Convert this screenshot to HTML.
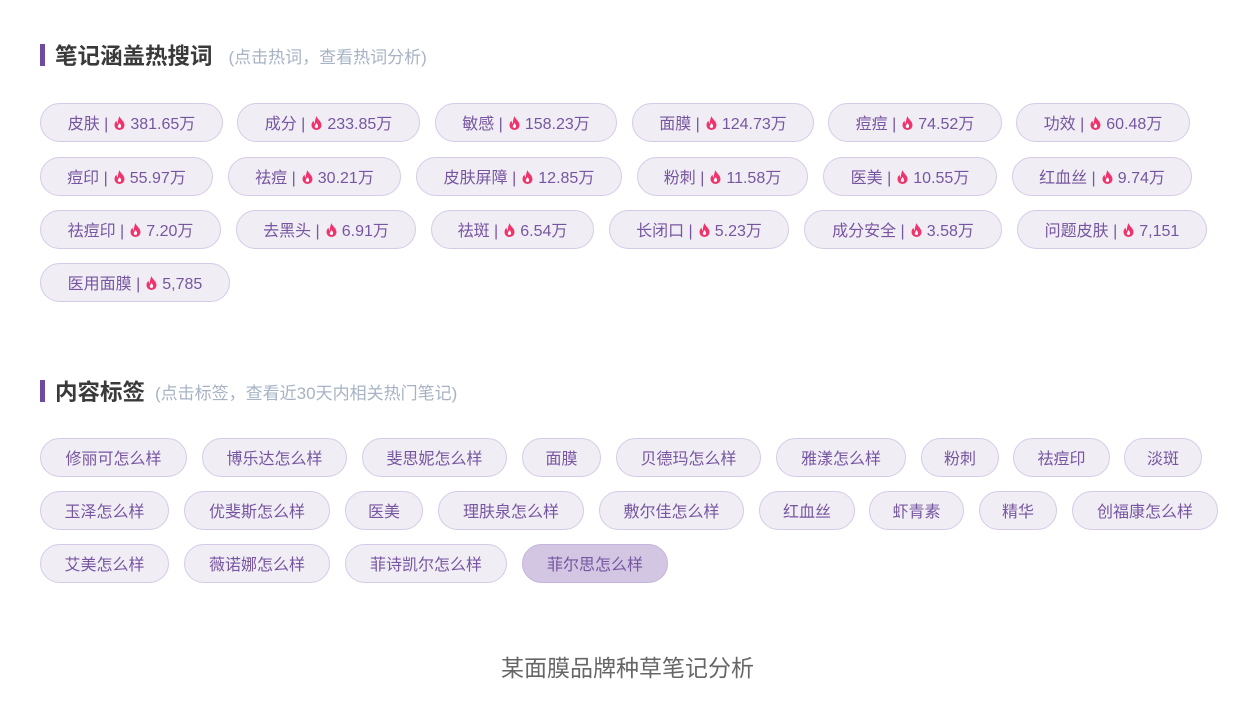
<!DOCTYPE html>
<html><head><meta charset="utf-8"><style>
body{margin:0;width:1255px;height:716px;background:#fff;position:relative;overflow:hidden;font-family:"Liberation Sans","Noto Sans CJK SC",sans-serif}
.p{position:absolute;box-sizing:border-box;border:1.5px solid #d6cbe7;background:#f1edf5;border-radius:20px;color:#7656a0;font-size:16px;text-align:center;line-height:42px;white-space:nowrap;height:39px}
.p.a{background:#d3c6e2;border-color:#c4b3dc}
.f{display:inline-block;width:11px;height:14px;margin:0 5px 0 6px;vertical-align:-1px}
.h{position:absolute;left:40px;height:22px;display:flex;align-items:center}
.bar{width:5px;height:22px;background:#6e4ba0;margin-right:10px}
.t{font-size:22.5px;font-weight:bold;color:#3a3a3a}
.s{font-size:17px;color:#a7b3c4;margin-left:16px}
.cap{position:absolute;top:649px;left:0;width:1255px;text-align:center;font-size:23px;color:#666}
</style></head><body>
<svg width="0" height="0" style="position:absolute"><defs><symbol id="fl" viewBox="0 0 11 14"><path d="M5.5 0C6 3 10.5 5 10.5 9.2A5 4.8 0 0 1 0.5 9.2C0.5 7 1.6 5.6 2.6 4.8C2.6 6.5 3.3 7.4 4 7.6C3.5 5 4.8 2 5.5 0Z" fill="#f0336c"/><path d="M5.5 7C6.8 8.5 7.3 9.8 7 11A1.8 1.8 0 0 1 3.8 11C3.6 9.8 4.6 8.6 5.5 7Z" fill="#fff"/></symbol></defs></svg>
<div class="h" style="top:44px"><div class="bar"></div><span class="t">笔记涵盖热搜词</span><span class="s">(点击热词，查看热词分析)</span></div>

<div class="p" style="left:40px;top:103px;width:183px">皮肤 |<svg class="f"><use href="#fl"/></svg>381.65万</div>
<div class="p" style="left:237px;top:103px;width:183px">成分 |<svg class="f"><use href="#fl"/></svg>233.85万</div>
<div class="p" style="left:435px;top:103px;width:182px">敏感 |<svg class="f"><use href="#fl"/></svg>158.23万</div>
<div class="p" style="left:632px;top:103px;width:182px">面膜 |<svg class="f"><use href="#fl"/></svg>124.73万</div>
<div class="p" style="left:828px;top:103px;width:174px">痘痘 |<svg class="f"><use href="#fl"/></svg>74.52万</div>
<div class="p" style="left:1016px;top:103px;width:174px">功效 |<svg class="f"><use href="#fl"/></svg>60.48万</div>

<div class="p" style="left:40px;top:157px;width:173px">痘印 |<svg class="f"><use href="#fl"/></svg>55.97万</div>
<div class="p" style="left:228px;top:157px;width:173px">祛痘 |<svg class="f"><use href="#fl"/></svg>30.21万</div>
<div class="p" style="left:416px;top:157px;width:206px">皮肤屏障 |<svg class="f"><use href="#fl"/></svg>12.85万</div>
<div class="p" style="left:637px;top:157px;width:171px">粉刺 |<svg class="f"><use href="#fl"/></svg>11.58万</div>
<div class="p" style="left:823px;top:157px;width:174px">医美 |<svg class="f"><use href="#fl"/></svg>10.55万</div>
<div class="p" style="left:1012px;top:157px;width:180px">红血丝 |<svg class="f"><use href="#fl"/></svg>9.74万</div>

<div class="p" style="left:40px;top:210px;width:181px">祛痘印 |<svg class="f"><use href="#fl"/></svg>7.20万</div>
<div class="p" style="left:236px;top:210px;width:180px">去黑头 |<svg class="f"><use href="#fl"/></svg>6.91万</div>
<div class="p" style="left:431px;top:210px;width:163px">祛斑 |<svg class="f"><use href="#fl"/></svg>6.54万</div>
<div class="p" style="left:609px;top:210px;width:180px">长闭口 |<svg class="f"><use href="#fl"/></svg>5.23万</div>
<div class="p" style="left:804px;top:210px;width:198px">成分安全 |<svg class="f"><use href="#fl"/></svg>3.58万</div>
<div class="p" style="left:1017px;top:210px;width:190px">问题皮肤 |<svg class="f"><use href="#fl"/></svg>7,151</div>

<div class="p" style="left:40px;top:263px;width:190px">医用面膜 |<svg class="f"><use href="#fl"/></svg>5,785</div>

<div class="h" style="top:380px"><div class="bar"></div><span class="t">内容标签</span><span class="s" style="margin-left:10px">(点击标签，查看近30天内相关热门笔记)</span></div>

<div class="p" style="left:40px;top:438px;width:147px">修丽可怎么样</div>
<div class="p" style="left:202px;top:438px;width:145px">博乐达怎么样</div>
<div class="p" style="left:362px;top:438px;width:145px">斐思妮怎么样</div>
<div class="p" style="left:522px;top:438px;width:79px">面膜</div>
<div class="p" style="left:616px;top:438px;width:145px">贝德玛怎么样</div>
<div class="p" style="left:776px;top:438px;width:130px">雅漾怎么样</div>
<div class="p" style="left:921px;top:438px;width:78px">粉刺</div>
<div class="p" style="left:1013px;top:438px;width:97px">祛痘印</div>
<div class="p" style="left:1124px;top:438px;width:78px">淡斑</div>

<div class="p" style="left:40px;top:491px;width:129px">玉泽怎么样</div>
<div class="p" style="left:184px;top:491px;width:146px">优斐斯怎么样</div>
<div class="p" style="left:345px;top:491px;width:78px">医美</div>
<div class="p" style="left:438px;top:491px;width:146px">理肤泉怎么样</div>
<div class="p" style="left:599px;top:491px;width:145px">敷尔佳怎么样</div>
<div class="p" style="left:759px;top:491px;width:96px">红血丝</div>
<div class="p" style="left:869px;top:491px;width:95px">虾青素</div>
<div class="p" style="left:979px;top:491px;width:78px">精华</div>
<div class="p" style="left:1072px;top:491px;width:146px">创福康怎么样</div>

<div class="p" style="left:40px;top:544px;width:129px">艾美怎么样</div>
<div class="p" style="left:184px;top:544px;width:146px">薇诺娜怎么样</div>
<div class="p" style="left:345px;top:544px;width:162px">菲诗凯尔怎么样</div>
<div class="p a" style="left:522px;top:544px;width:146px">菲尔思怎么样</div>

<div class="cap">某面膜品牌种草笔记分析</div>
</body></html>
